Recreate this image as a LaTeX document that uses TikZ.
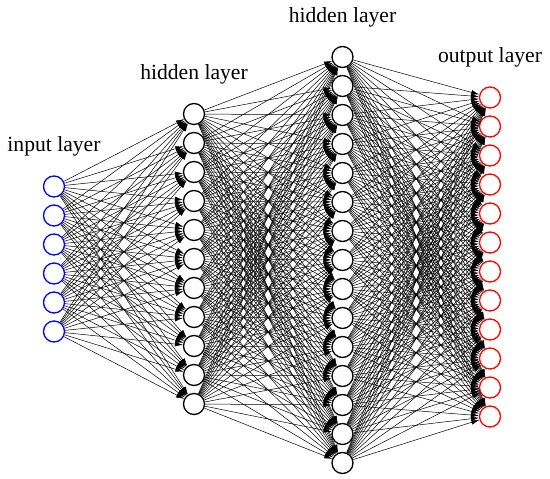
\documentclass[tikz,border=0pt]{standalone}
\usepackage{fontspec}
\setmainfont{Liberation Serif}
\usetikzlibrary{arrows.meta}

\begin{document}
\begin{tikzpicture}[x=1bp, y=-1bp,
        neuron/.style={circle, draw, fill=white, line width=1.3bp, minimum size=21bp, inner sep=0pt},
        link/.style={line width=0.5bp, -{Latex[length=8bp, width=5bp]}},
        layer/.style={font=\fontsize{21.7}{26}\selectfont, anchor=base}]
        \useasboundingbox (0,0) rectangle (550,479);
        % neurons
        \foreach \i in {1,...,6} \node[neuron, draw=blue] (in\i) at (54, {259+(\i-3.5)*29}) {};
        \foreach \i in {1,...,11} \node[neuron] (ha\i) at (194, {259+(\i-6)*29}) {};
        \foreach \i in {1,...,15} \node[neuron] (hb\i) at (342.5, {260+(\i-8)*29}) {};
        \foreach \i in {1,...,12} \node[neuron, draw=red] (out\i) at (490, {257+(\i-6.5)*29}) {};
        % connections
        \foreach \i in {1,...,6} \foreach \j in {1,...,11} \draw[link] (in\i) -- (ha\j);
        \foreach \i in {1,...,11} \foreach \j in {1,...,15} \draw[link] (ha\i) -- (hb\j);
        \foreach \i in {1,...,15} \foreach \j in {1,...,12} \draw[link] (hb\i) -- (out\j);
        % labels
        \node[layer] (inlabel) at ([yshift=23.5bp]in1.north) {input layer};
        \node[layer] (halabel) at ([yshift=23.5bp]ha1.north) {hidden layer};
        \node[layer] (hblabel) at ([yshift=23.5bp]hb1.north) {hidden layer};
        \node[layer] (outlabel) at ([yshift=23.5bp]out1.north) {output layer};
\end{tikzpicture}
\end{document}
